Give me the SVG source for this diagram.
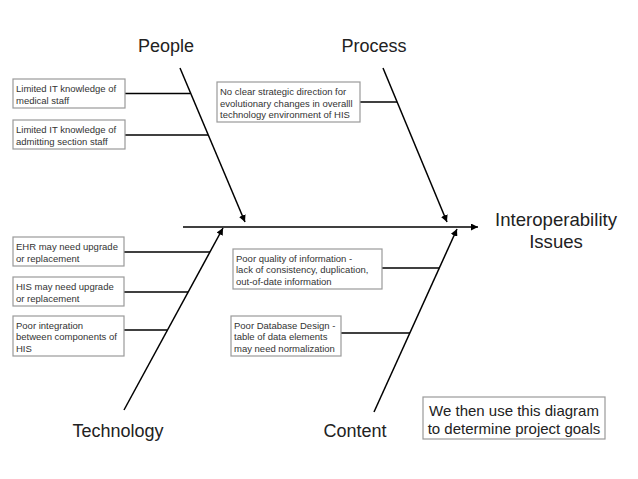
<svg xmlns="http://www.w3.org/2000/svg" width="638" height="479" viewBox="0 0 638 479">
<defs>
<marker id="ah" viewBox="0 0 10 10" refX="10" refY="5" markerWidth="7" markerHeight="7" markerUnits="userSpaceOnUse" orient="auto">
<path d="M0,0 L10,5 L0,10 z" fill="#000"/>
</marker>
</defs>
<style>
.box{fill:#fff;stroke:#9a9a9a;stroke-width:1.2}
.t{font-family:"Liberation Sans",Arial,sans-serif;font-size:9.5px;fill:#333}
.cat{font-family:"Liberation Sans",Arial,sans-serif;font-size:18px;fill:#222;text-anchor:middle}
.ln{stroke:#000;stroke-width:1.5;fill:none}
.arr{stroke:#000;stroke-width:1.5;fill:none;marker-end:url(#ah)}
</style>
<rect width="638" height="479" fill="#fff"/>
<g id="connectors">
<line class="arr" x1="183" y1="227" x2="478" y2="227"/>
<line class="arr" x1="180" y1="68" x2="245" y2="222"/>
<line class="arr" x1="383" y1="68" x2="447" y2="222"/>
<line class="arr" x1="124" y1="410" x2="223" y2="228"/>
<line class="arr" x1="374" y1="412" x2="457" y2="229"/>
<line class="ln" x1="125" y1="93.5" x2="190.5" y2="93.5"/>
<line class="ln" x1="125" y1="135" x2="208" y2="135"/>
<line class="ln" x1="360" y1="102" x2="397" y2="102"/>
<line class="ln" x1="124" y1="252" x2="210" y2="252"/>
<line class="ln" x1="124" y1="292" x2="188" y2="292"/>
<line class="ln" x1="124" y1="330" x2="167" y2="330"/>
<line class="ln" x1="382" y1="268" x2="439" y2="268"/>
<line class="ln" x1="341" y1="333" x2="410" y2="333"/>
</g>
<g id="people"><text class="cat" x="166" y="52">People</text></g>
<g id="process"><text class="cat" x="374" y="52">Process</text></g>
<g id="technology"><text class="cat" x="118" y="437">Technology</text></g>
<g id="content"><text class="cat" x="355" y="437">Content</text></g>
<g id="effect">
<text class="cat" style="font-size:18.6px" x="556" y="226">Interoperability</text>
<text class="cat" style="font-size:18.6px" x="556" y="248">Issues</text>
</g>
<g id="people1">
<rect class="box" x="13" y="79" width="112" height="29"/>
<text class="t" x="16" y="92">Limited IT knowledge of</text>
<text class="t" x="16" y="104">medical staff</text>
</g>
<g id="people2">
<rect class="box" x="13" y="120" width="112" height="29"/>
<text class="t" x="16" y="133">Limited IT knowledge of</text>
<text class="t" x="16" y="145">admitting section staff</text>
</g>
<g id="process1">
<rect class="box" x="217" y="82" width="143" height="40"/>
<text class="t" x="220" y="95">No clear strategic direction for</text>
<text class="t" x="220" y="106.5">evolutionary changes in overalll</text>
<text class="t" x="220" y="118">technology environment of HIS</text>
</g>
<g id="tech1">
<rect class="box" x="13" y="237" width="111" height="29"/>
<text class="t" x="16" y="250">EHR may need upgrade</text>
<text class="t" x="16" y="262">or replacement</text>
</g>
<g id="tech2">
<rect class="box" x="13" y="277" width="111" height="29"/>
<text class="t" x="16" y="290">HIS may need upgrade</text>
<text class="t" x="16" y="302">or replacement</text>
</g>
<g id="tech3">
<rect class="box" x="13" y="316" width="111" height="40"/>
<text class="t" x="16" y="328.5">Poor integration</text>
<text class="t" x="16" y="340">between components of</text>
<text class="t" x="16" y="351.5">HIS</text>
</g>
<g id="content1">
<rect class="box" x="233" y="249" width="149" height="40"/>
<text class="t" x="236" y="261.5">Poor quality of information -</text>
<text class="t" x="236" y="273">lack of consistency, duplication,</text>
<text class="t" x="236" y="284.5">out-of-date information</text>
</g>
<g id="content2">
<rect class="box" x="231" y="316" width="110" height="40"/>
<text class="t" x="234" y="328.5">Poor Database Design -</text>
<text class="t" x="234" y="340">table of data elements</text>
<text class="t" x="234" y="351.5">may need normalization</text>
</g>
<g id="note">
<rect class="box" x="423" y="397" width="182" height="42"/>
<text class="cat" style="font-size:15px" x="514" y="416">We then use this diagram</text>
<text class="cat" style="font-size:15px" x="514" y="434">to determine project goals</text>
</g>
</svg>
